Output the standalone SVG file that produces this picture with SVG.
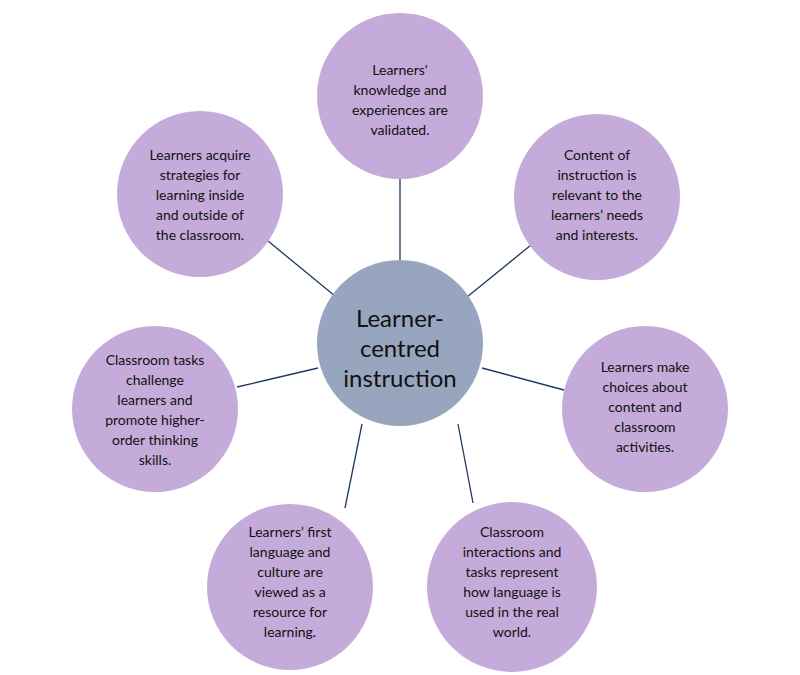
<svg xmlns="http://www.w3.org/2000/svg" width="800" height="675" viewBox="0 0 800 675">
<style>
.n{fill:#c5abd9}
.t{font-family:Lato,"Noto Sans",sans-serif;font-size:14px;fill:#111;text-anchor:middle}
.c{font-family:Lato,"Noto Sans",sans-serif;font-size:24px;fill:#111;text-anchor:middle}
line{stroke:#1f3864;stroke-width:1.3}
</style>
<rect width="800" height="675" fill="#fff"/>
<g id="connectors">
<line x1="400" y1="179" x2="400" y2="262"/>
<line x1="531" y1="245" x2="467" y2="297"/>
<line x1="564" y1="390" x2="482" y2="368"/>
<line x1="473" y1="503" x2="458" y2="424"/>
<line x1="345" y1="508" x2="362" y2="424"/>
<line x1="237" y1="387" x2="318" y2="368"/>
<line x1="268" y1="241" x2="335" y2="296"/>
</g>
<g id="center"><circle cx="400" cy="343" r="83" fill="#97a5be"/>
<text class="c"><tspan x="400" y="327">Learner-</tspan><tspan x="400" y="357">centred</tspan><tspan x="400" y="387">instruction</tspan></text></g>
<g id="n1"><circle class="n" cx="400" cy="96" r="83"/>
<text class="t"><tspan x="400" y="75">Learners'</tspan><tspan x="400" y="95">knowledge and</tspan><tspan x="400" y="115">experiences are</tspan><tspan x="400" y="135">validated.</tspan></text></g>
<g id="n2"><circle class="n" cx="597" cy="197" r="83"/>
<text class="t"><tspan x="597" y="160">Content of</tspan><tspan x="597" y="180">instruction is</tspan><tspan x="597" y="200">relevant to the</tspan><tspan x="597" y="220">learners’ needs</tspan><tspan x="597" y="240">and interests.</tspan></text></g>
<g id="n3"><circle class="n" cx="645" cy="409" r="83"/>
<text class="t"><tspan x="645" y="372">Learners make</tspan><tspan x="645" y="392">choices about</tspan><tspan x="645" y="412">content and</tspan><tspan x="645" y="432">classroom</tspan><tspan x="645" y="452">activities.</tspan></text></g>
<g id="n4"><circle class="n" cx="512" cy="587" r="85"/>
<text class="t"><tspan x="512" y="537">Classroom</tspan><tspan x="512" y="557">interactions and</tspan><tspan x="512" y="577">tasks represent</tspan><tspan x="512" y="597">how language is</tspan><tspan x="512" y="617">used in the real</tspan><tspan x="512" y="637">world.</tspan></text></g>
<g id="n5"><circle class="n" cx="290" cy="587" r="83"/>
<text class="t"><tspan x="290" y="537">Learners’ first</tspan><tspan x="290" y="557">language and</tspan><tspan x="290" y="577">culture are</tspan><tspan x="290" y="597">viewed as a</tspan><tspan x="290" y="617">resource for</tspan><tspan x="290" y="637">learning.</tspan></text></g>
<g id="n6"><circle class="n" cx="155" cy="409" r="83"/>
<text class="t"><tspan x="155" y="365">Classroom tasks</tspan><tspan x="155" y="385">challenge</tspan><tspan x="155" y="405">learners and</tspan><tspan x="155" y="425">promote higher-</tspan><tspan x="155" y="445">order thinking</tspan><tspan x="155" y="465">skills.</tspan></text></g>
<g id="n7"><circle class="n" cx="200" cy="194" r="83"/>
<text class="t"><tspan x="200" y="160">Learners acquire</tspan><tspan x="200" y="180">strategies for</tspan><tspan x="200" y="200">learning  inside</tspan><tspan x="200" y="220">and outside of</tspan><tspan x="200" y="240">the classroom.</tspan></text></g>
</svg>
